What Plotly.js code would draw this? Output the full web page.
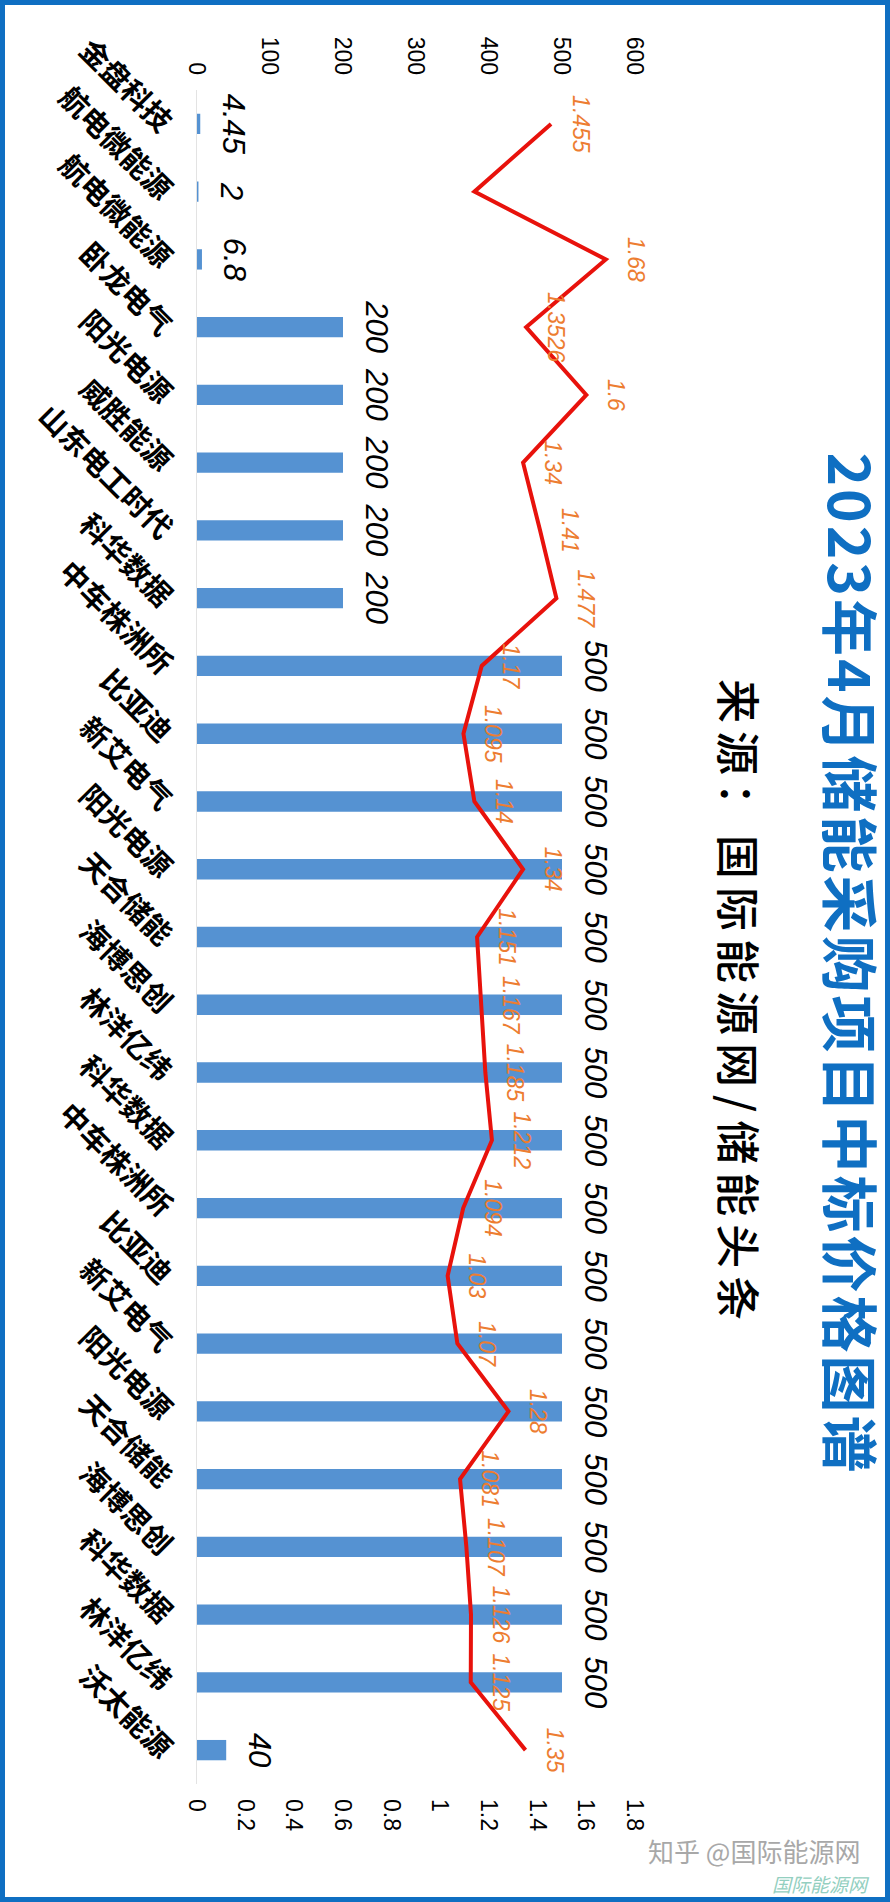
<!DOCTYPE html>
<html>
<head>
<meta charset="utf-8">
<script src="https://cdn.plot.ly/plotly-3.0.1.min.js"></script>
<style>
  html, body { margin:0; padding:0; background:#fff; overflow:hidden; }
  body { width:890px; height:1902px; position:relative; }
  #rot { position:absolute; left:0; top:0; width:1902px; height:890px;
         transform-origin:0 0; transform:translate(890px,0) rotate(90deg); }
  #frame { position:absolute; left:0; top:0; width:890px; height:1902px;
           box-sizing:border-box; border:5px solid #0F6FC2; pointer-events:none; }
  #wm { position:absolute; left:648px; top:1832px; font-family:"Noto Sans CJK SC"; font-size:26px;
        color:#a8a8a8; white-space:nowrap; }
  #logo { position:absolute; left:772px; top:1870px; font-family:"Noto Sans CJK SC"; font-size:19px;
          font-style:italic; color:#93cfc0; white-space:nowrap; }
  .gtitle { letter-spacing: 3px; }
  .annotation-text { letter-spacing: 8px; }
</style>
</head>
<body>
<div id="rot"><div id="chart"></div></div>
<div id="wm">知乎 @国际能源网</div>
<div id="logo">国际能源网</div>
<div id="frame"></div>
<script>
const titleText = '2023年4月储能采购项目中标价格图谱';
const subtitleText = '来源：国际能源网/储能头条';
const categories = ['金盘科技','航电微能源','航电微能源','卧龙电气','阳光电源','威胜能源','山东电工时代','科华数据',
  '中车株洲所','比亚迪','新艾电气','阳光电源','天合储能','海博思创','林洋亿纬','科华数据',
  '中车株洲所','比亚迪','新艾电气','阳光电源','天合储能','海博思创','科华数据','林洋亿纬','沃太能源'];
const capacity = [4.45, 2, 6.8, 200, 200, 200, 200, 200,
  500, 500, 500, 500, 500, 500, 500, 500,
  500, 500, 500, 500, 500, 500, 500, 500, 40];
const price = [1.455, 1.14, 1.68, 1.3526, 1.6, 1.34, 1.41, 1.477,
  1.17, 1.095, 1.14, 1.34, 1.151, 1.167, 1.185, 1.212,
  1.094, 1.03, 1.07, 1.28, 1.081, 1.107, 1.126, 1.125, 1.35];
const priceLabels = ['1.455', '', '1.68', '1.3526', '1.6', '1.34', '1.41', '1.477',
  '1.17', '1.095', '1.14', '1.34', '1.151', '1.167', '1.185', '1.212',
  '1.094', '1.03', '1.07', '1.28', '1.081', '1.107', '1.126', '1.125', '1.35'];
const leftTicks = [0, 100, 200, 300, 400, 500, 600];
const rightTicks = [0, 0.2, 0.4, 0.6, 0.8, 1, 1.2, 1.4, 1.6, 1.8];

const idx = categories.map((c, i) => i);

const barTrace = {
  type: 'bar', x: idx, y: capacity,
  marker: { color: '#5592D2' }, width: 0.3,
  hoverinfo: 'none'
};
const barLabelTrace = {
  type: 'scatter', mode: 'markers+text', x: idx, y: capacity,
  marker: { size: 22, opacity: 0 },
  text: capacity.map(String), textposition: 'top center', cliponaxis: false,
  textfont: { family: 'Liberation Sans', size: 31, style: 'italic', color: '#000' },
  hoverinfo: 'none'
};
const lineTrace = {
  type: 'scatter', mode: 'lines+markers+text', x: idx, y: price, yaxis: 'y2',
  line: { color: '#E8120C', width: 4 },
  marker: { size: 24, opacity: 0 },
  text: priceLabels, textposition: 'top center', cliponaxis: false,
  textfont: { family: 'Liberation Sans', size: 23, style: 'italic', color: '#ED7D31' },
  hoverinfo: 'none'
};

const W = 1902, H = 890, ML = 90, MR = 118, MT = 255, MB = 197;
const layout = {
  width: W, height: H,
  margin: { l: ML, r: MR, t: MT, b: MB },
  paper_bgcolor: '#fff', plot_bgcolor: '#fff',
  showlegend: false,
  title: { text: titleText, x: 964 / W, xanchor: 'center', y: 1 - 42 / H, yanchor: 'middle',
           font: { family: 'Noto Sans CJK SC', size: 57, weight: 'bold', color: '#0F6FC2' } },
  xaxis: {
    range: [-0.5, categories.length - 0.5], tickmode: 'array', tickvals: idx, ticktext: categories,
    tickangle: -45, ticks: '', showgrid: false, zeroline: false,
    showline: true, linecolor: '#e3e3e3', linewidth: 1, ticklabelstandoff: 6,
    tickfont: { family: 'Noto Sans CJK SC', size: 29, weight: 'bold', color: '#000' }
  },
  yaxis: {
    range: [0, 600], tickmode: 'array', tickvals: leftTicks, showgrid: false, zeroline: false,
    showline: false, ticks: '', ticklabelstandoff: 14,
    tickfont: { family: 'Liberation Sans', size: 23, color: '#000' }
  },
  yaxis2: {
    range: [0, 1.8], tickmode: 'array', tickvals: rightTicks, overlaying: 'y', side: 'right',
    showgrid: false, zeroline: false, showline: false, ticks: '', ticklabelstandoff: 14,
    tickfont: { family: 'Liberation Sans', size: 23, color: '#000' }
  },
  annotations: [{
    text: subtitleText, xref: 'paper', yref: 'paper',
    x: (1004 - ML) / (W - ML - MR), y: (H - MB - 150) / (H - MT - MB),
    xanchor: 'center', yanchor: 'middle', showarrow: false,
    font: { family: 'Noto Sans CJK SC', size: 44, weight: 500, color: '#000' }
  }]
};

Plotly.newPlot('chart', [barTrace, barLabelTrace, lineTrace], layout, { staticPlot: true, displayModeBar: false });
</script>
</body>
</html>
